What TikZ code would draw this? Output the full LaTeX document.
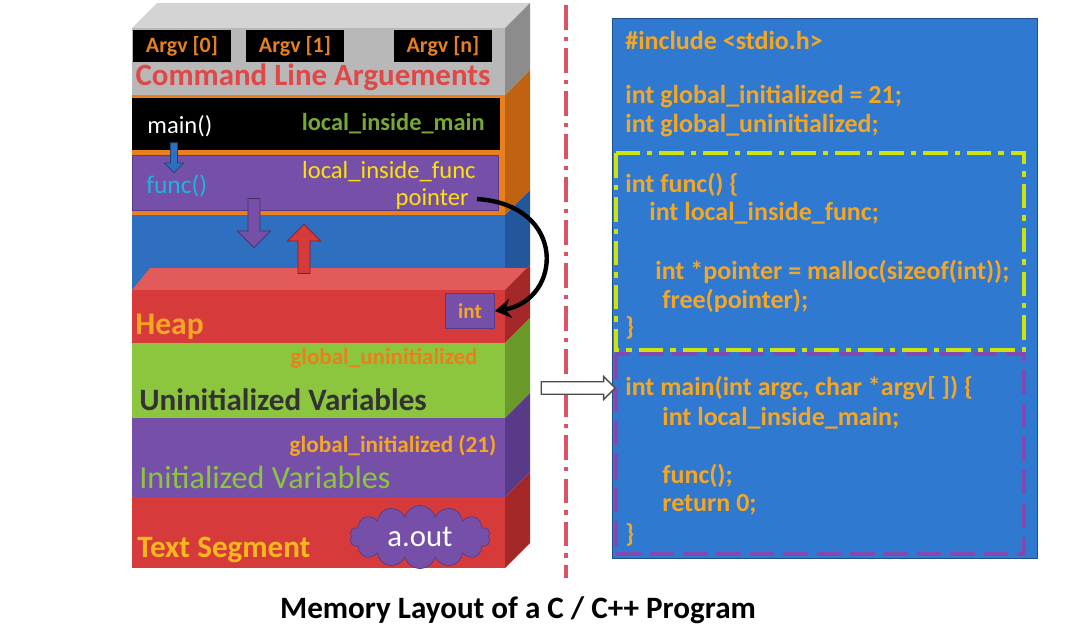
\documentclass[tikz,border=0pt]{standalone}
\usepackage{fontspec}
\setmainfont{Carlito}
\usetikzlibrary{shapes.symbols,shapes.arrows,arrows.meta}
\definecolor{cgray}{HTML}{B8B8B8}\definecolor{cgrayS}{HTML}{8C8C8C}\definecolor{cgrayT}{HTML}{D4D4D4}
\definecolor{corange}{HTML}{E8801E}\definecolor{corangeS}{HTML}{BF6312}
\definecolor{cblue}{HTML}{2E6FC0}\definecolor{cblueS}{HTML}{22579C}
\definecolor{cred}{HTML}{D63A3A}\definecolor{credS}{HTML}{A52828}\definecolor{credT}{HTML}{E25A5A}
\definecolor{cgreen}{HTML}{8CC63F}\definecolor{cgreenS}{HTML}{6A9A2A}
\definecolor{cpurple}{HTML}{7650A8}\definecolor{cpurpleS}{HTML}{583A88}
\definecolor{ccode}{HTML}{F5A623}\definecolor{cbox}{HTML}{2F7AD0}
\definecolor{ctxtred}{HTML}{E04848}
\tikzset{
  code/.style={anchor=west,text=ccode,font=\bfseries\fontsize{14.8}{15}\selectfont,inner sep=0},
  argv/.style={fill=black,minimum width=56,minimum height=18,inner sep=0,text=corange,font=\bfseries\fontsize{12.5}{12}\selectfont},
  barrow/.style={single arrow,draw=#1!60!black,fill=#1,single arrow head extend=3,inner sep=1.5},
}
\begin{document}
\begin{tikzpicture}[x=0.02cm,y=-0.02cm]
\useasboundingbox[fill=white] (0,0) rectangle (1076,636);
\newcommand{\slab}[4]{%
  \fill[#3] (132,#1) rectangle (505,#2);
  \fill[#4] (505,#1) -- (530,#1-25) -- (530,#2-25) -- (505,#2) -- cycle;}
\fill[cgrayT] (132,28) -- (157,3) -- (530,3) -- (505,28) -- cycle;
\slab{28}{95}{cgray}{cgrayS}
\slab{95}{215}{corange}{corangeS}
\slab{215}{290}{cblue}{cblueS}
\fill[credT] (132,290) -- (150,268) -- (530,268) -- (505,290) -- cycle;
\slab{290}{343}{cred}{credS}
\slab{343}{418}{cgreen}{cgreenS}
\slab{418}{497}{cpurple}{cpurpleS}
\slab{497}{568}{cred}{credS}
% command line
\node[argv] (a0) at (182,46) {Argv [0]};
\node[argv] (a1) at (295,46) {Argv [1]};
\node[argv] (an) at (443,46) {Argv [n]};
\node[inner sep=0,text=ctxtred,font=\bfseries\fontsize{17.6}{18}\selectfont] (cla) at (313,77) {Command Line Arguements};
% stack frames
\fill[black] (132,98) rectangle (500,150);
\fill[cpurple,draw=cpurpleS] (132,155) rectangle (498,210);
\node[inner sep=0,text=white,font=\fontsize{14}{14}\selectfont,anchor=west] (mn) at (147,126) {main()};
\node[inner sep=0,text=cgreen!85!black,font=\bfseries\fontsize{13.9}{14}\selectfont,anchor=east] (lim) at (485,124) {local\_inside\_main};
\node[inner sep=0,text=cblue!50!cyan,font=\fontsize{14.5}{14}\selectfont,anchor=west] (fn) at (146,186) {func()};
\node[inner sep=0,text=yellow!85!orange,font=\fontsize{14}{14}\selectfont,anchor=east] (lif) at (476,172) {local\_inside\_func};
\node[inner sep=0,text=yellow!85!orange,font=\fontsize{14}{14}\selectfont,anchor=east] (ptr) at (469,199) {pointer};
\node[barrow=cblue,rotate=-90,minimum height=17,minimum width=11] (ab) at (174,156) {};
\node[barrow=cpurple,rotate=-90,minimum height=28,minimum width=19] (ap) at (254,220) {};
\node[barrow=cred,rotate=90,minimum height=28,minimum width=19] (ar) at (304,252) {};
% heap
\node[inner sep=0,text=ccode,anchor=west,font=\bfseries\fontsize{18}{18}\selectfont] (heap) at (135,327) {Heap};
\node[fill=cpurple,draw=cpurpleS,minimum width=28,minimum height=20,inner sep=0,text=ccode,font=\bfseries\fontsize{12}{12}\selectfont] (int) at (470,311) {int};
\draw[line width=2.5,-{Stealth[length=9,width=11]}] (ptr.east)++(8,0) coordinate (ps) .. controls (568,205) and (562,300) .. (int.east);
% data
\node[inner sep=0,text=corange,font=\bfseries\fontsize{13.1}{13}\selectfont] (gu) at (384,358) {global\_uninitialized};
\node[inner sep=0,anchor=west,text=black!80,font=\bfseries\fontsize{17.7}{18}\selectfont] (uv) at (139,400) {Uninitialized Variables};
\node[inner sep=0,text=ccode,font=\bfseries\fontsize{13.2}{13}\selectfont] (gi) at (393,446) {global\_initialized (21)};
\node[inner sep=0,anchor=west,text=cgreen,font=\fontsize{18.3}{18}\selectfont] (iv) at (139,477) {Initialized Variables};
% text segment
\node[inner sep=0,anchor=west,text=ccode!80!yellow,font=\bfseries\fontsize{17.7}{18}\selectfont] (ts) at (137,550) {Text Segment};
\node[cloud,cloud puffs=14,aspect=2.3,fill=cpurple,draw=cpurpleS,minimum width=80,minimum height=36,text=white,font=\fontsize{17.5}{17}\selectfont,inner sep=0] (aout) at (420,537) {a.out};
% divider
\draw[cred!70!purple!80,line width=2.5,dash pattern=on 14 off 4 on 2.5 off 4] (566,5) -- (566,578);
% code box
\fill[cbox,draw=cblue!70!black] (612,18) rectangle (1037,558);
\draw[yellow!80!green,line width=2.8,dash pattern=on 14 off 4 on 3 off 4] (616,153) rectangle (1024,350);
\draw[cpurple!90!magenta,line width=2.8,dash pattern=on 14 off 5] (616,354) rectangle (1024,554);
\node[code] (l1) at (625,40) {\#include <stdio.h>};
\node[code] (l2) at (625,97) {int global\_initialized = 21;};
\node[code] (l3) at (625,126) {int global\_uninitialized;};
\node[code] (l4) at (625,185) {int func() \{};
\node[code] (l5) at (649,213) {int local\_inside\_func;};
\node[code] (l6) at (655,272) {int *pointer = malloc(sizeof(int));};
\node[code] (l7) at (662,301) {free(pointer);};
\node[code] (l8) at (625,328) {\}};
\node[code] (l9) at (625,388) {int main(int argc, char *argv[ ]) \{};
\node[code] (l10) at (662,418) {int local\_inside\_main;};
\node[code] (l11) at (662,476) {func();};
\node[code] (l12) at (662,505) {return 0;};
\node[code] (l13) at (625,535) {\}};
% hollow arrow
\node[single arrow,draw=black!70,line width=0.8,fill=white,minimum height=42,minimum width=13,single arrow head extend=2,inner sep=2] (harr) at (575,388) {};
% title
\node[inner sep=0,font=\bfseries\fontsize{17.7}{18}\selectfont] (title) at (518,610) {Memory Layout of a C / C++ Program};
\end{tikzpicture}
\end{document}
